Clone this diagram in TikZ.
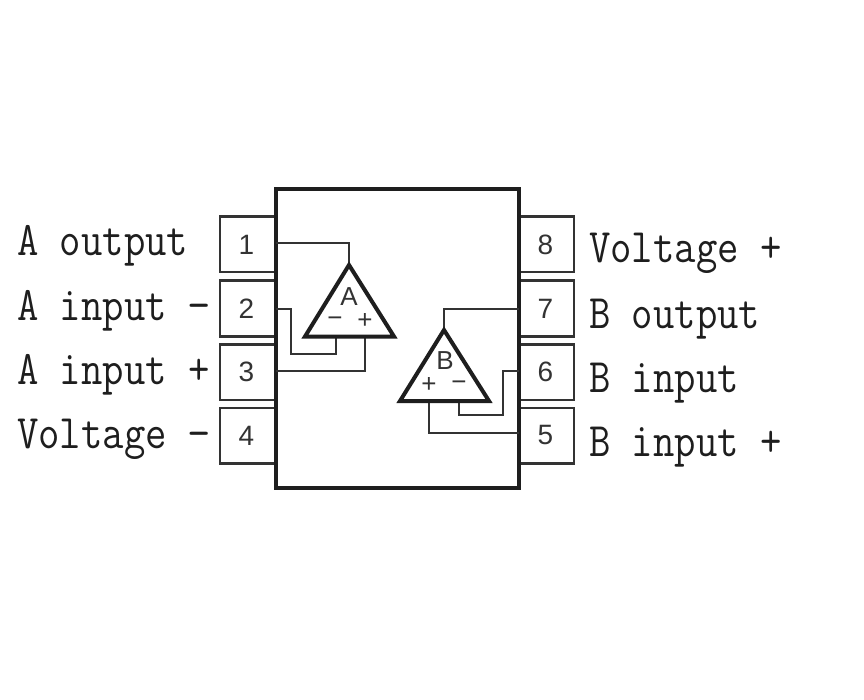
\documentclass[tikz,border=0pt]{standalone}
\usepackage{fontspec}
\setmainfont{Liberation Sans}
\newfontfamily\labfont{Latin Modern Mono}
\definecolor{ink}{HTML}{1E1E1E}
\definecolor{wire}{HTML}{333333}
\newcommand{\pinnum}[1]{\kern-2pt\raisebox{-1.5pt}{#1}}
\tikzset{
  pinbox/.style={draw=wire,line width=2.5pt,minimum width=55pt,minimum height=55.5pt,inner sep=0pt,font=\fontsize{28}{28}\selectfont,text=wire},
  chipbox/.style={draw=ink,line width=3.4pt,minimum width=243pt,minimum height=299pt,inner sep=0pt},
  opamp/.style={draw=ink,line width=4pt,line join=miter},
  conn/.style={draw=wire,line width=2.4pt},
  lab/.style={anchor=base west,inner sep=0pt,font=\labfont\fontsize{41.5}{41.5}\selectfont,text=ink,yscale=1.16},
  sym/.style={inner sep=0pt,text=wire,font=\fontsize{26}{26}\selectfont},
}
\begin{document}
\begin{tikzpicture}[x=1pt,y=-1pt]
\useasboundingbox (0,0) rectangle (864,700);
\node[pinbox] (p1) at (247.5,244.5) {\pinnum{1}};
\node[pinbox] (p2) at (247.5,308.5) {\pinnum{2}};
\node[pinbox] (p3) at (247.5,372) {\pinnum{3}};
\node[pinbox] (p4) at (247.5,435.5) {\pinnum{4}};
\node[pinbox] (p8) at (546.5,244.5) {\pinnum{8}};
\node[pinbox] (p7) at (546.5,308.5) {\pinnum{7}};
\node[pinbox] (p6) at (546.5,372) {\pinnum{6}};
\node[pinbox] (p5) at (546.5,435.5) {\pinnum{5}};
\node[chipbox,fill=white] (chip) at (397.5,338.5) {};
\coordinate (p1i) at (276,243);
\coordinate (p2i) at (276,309);
\coordinate (p3i) at (276,371);
\coordinate (p7i) at (519,309);
\coordinate (p6i) at (519,371);
\coordinate (p5i) at (519,433);
\coordinate (Aout) at (349,265);
\coordinate (Al) at (305,336.5);
\coordinate (Ar) at (394,336.5);
\coordinate (Am) at (336,336.5);
\coordinate (Ap) at (365,336.5);
\coordinate (Bout) at (444,330);
\coordinate (Bl) at (400,401);
\coordinate (Br) at (489,401);
\coordinate (Bm) at (459,401);
\coordinate (Bp) at (429,401);
\draw[conn] (p1i) -| (Aout);
\draw[conn] (p2i) -- (291,309) -- (291,354) -| (Am);
\draw[conn] (p3i) -| (Ap);
\draw[conn] (p7i) -| (Bout);
\draw[conn] (p6i) -- (503,371) -- (503,415) -| (Bm);
\draw[conn] (p5i) -| (Bp);
\draw[opamp] (Aout) -- (Ar) -- (Al) -- cycle;
\draw[opamp] (Bout) -- (Br) -- (Bl) -- cycle;
\node[sym] (Aname) at (349,297) {A};
\node[sym] (Aminus) at (335,322) {−};
\node[sym] (Aplus) at (365,321) {+};
\node[sym] (Bname) at (445,361) {B};
\node[sym] (Bplus) at (429,385) {+};
\node[sym] (Bminus) at (459,386) {−};
\node[lab] (l1) at (17,256) {A output};
\node[lab] (l2) at (17,320) {A input −};
\node[lab] (l3) at (17,384) {A input +};
\node[lab] (l4) at (17,448) {Voltage −};
\node[lab] (l8) at (589,263) {Voltage +};
\node[lab] (l7) at (589,328) {B output};
\node[lab] (l6) at (589,392) {B input};
\node[lab] (l5) at (589,456) {B input +};
\end{tikzpicture}
\end{document}
